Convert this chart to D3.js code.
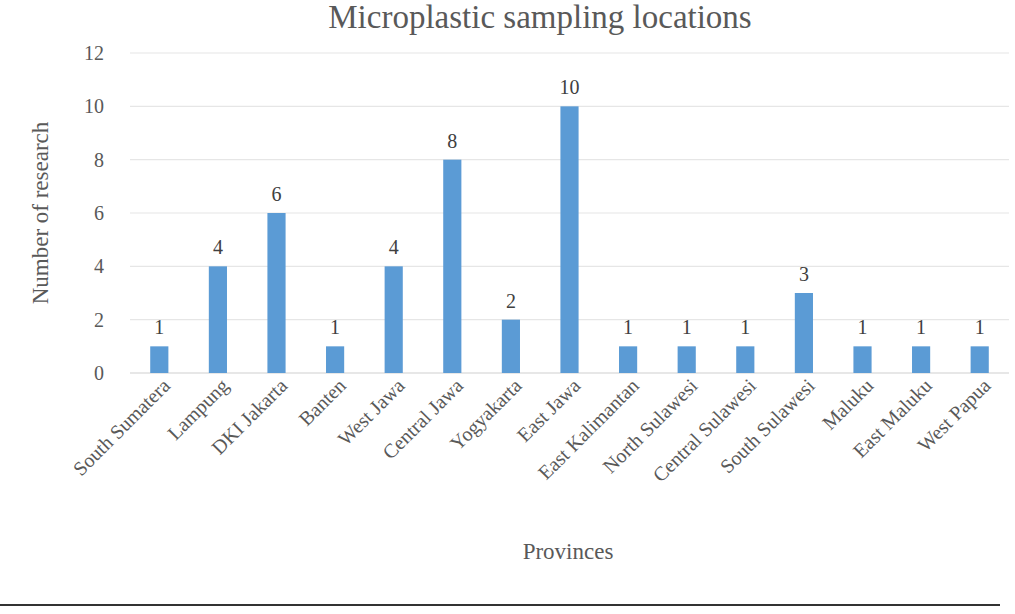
<!DOCTYPE html>
<html>
<head>
<meta charset="utf-8">
<script src="https://cdn.jsdelivr.net/npm/d3@7"></script>
<style>body{margin:0;background:#fff;}</style>
</head>
<body>
<div id="chart"></div>
<script>
// data
const provinces = ["South Sumatera", "Lampung", "DKI Jakarta", "Banten", "West Jawa", "Central Jawa",
  "Yogyakarta", "East Jawa", "East Kalimantan", "North Sulawesi", "Central Sulawesi",
  "South Sulawesi", "Maluku", "East Maluku", "West Papua"];
const counts = [1, 4, 6, 1, 4, 8, 2, 10, 1, 1, 1, 3, 1, 1, 1];
const yTicks = [0, 2, 4, 6, 8, 10, 12];

const data = provinces.map((p, i) => ({name: p, count: counts[i]}));

const margin = {top: 53, right: 6, bottom: 241, left: 130},
    width = 1015 - margin.left - margin.right,
    height = 614 - margin.top - margin.bottom;

const font = "Liberation Serif";

const root = d3.select("#chart").append("svg")
    .attr("width", 1015).attr("height", 614);

const svg = root.append("g")
    .attr("transform", `translate(${margin.left}, ${margin.top})`);

// title
root.append("text")
  .attr("x", 540).attr("y", 28)
  .attr("text-anchor", "middle")
  .attr("font-family", font).style("font-size", "33px")
  .attr("fill", "#595959")
  .text("Microplastic sampling locations");

const x = d3.scaleBand().domain(provinces).range([0, width]).paddingInner(0.69).paddingOuter(0.345);
const y = d3.scaleLinear().domain([0, 12]).range([height, 0]);

// gridlines
svg.selectAll(".grid").data(yTicks).join("line")
  .attr("x1", 0).attr("x2", width)
  .attr("y1", d => y(d)).attr("y2", d => y(d))
  .attr("stroke", d => d === 0 ? "#d0d0d0" : "#e6e6e6").attr("stroke-width", 1.2);

// y axis labels
const yAxis = svg.append("g")
  .call(d3.axisLeft(y).tickValues(yTicks).tickSize(0).tickPadding(26));
yAxis.select(".domain").remove();
yAxis.selectAll("text").attr("font-family", font).style("font-size", "20px").attr("fill", "#595959");

// x axis labels
const xAxis = svg.append("g")
  .attr("transform", `translate(0, ${height})`)
  .call(d3.axisBottom(x).tickSize(0).tickPadding(0));
xAxis.select(".domain").remove();
xAxis.selectAll("text")
  .attr("font-family", font).style("font-size", "20px").attr("fill", "#595959")
  .attr("dy", 0)
  .attr("transform", "translate(12,14)rotate(-45)")
  .style("text-anchor", "end");

// bars
svg.selectAll("rect.bar").data(data).join("rect")
  .attr("x", d => x(d.name))
  .attr("y", d => y(d.count))
  .attr("width", x.bandwidth())
  .attr("height", d => y(0) - y(d.count))
  .attr("fill", "#5b9bd5");

// value labels
svg.selectAll("text.val").data(data).join("text")
  .attr("x", d => x(d.name) + x.bandwidth() / 2)
  .attr("y", d => y(d.count) - 12)
  .attr("text-anchor", "middle")
  .attr("font-family", font).style("font-size", "20px").attr("fill", "#404040")
  .text(d => d.count);

// axis titles
svg.append("text")
  .attr("transform", `translate(-82, ${height / 2})rotate(-90)`)
  .attr("text-anchor", "middle")
  .attr("font-family", font).style("font-size", "23px").attr("fill", "#595959")
  .text("Number of research");

svg.append("text")
  .attr("x", 438).attr("y", height + 186)
  .attr("text-anchor", "middle")
  .attr("font-family", font).style("font-size", "23px").attr("fill", "#595959")
  .text("Provinces");

// bottom rule
root.append("line")
  .attr("x1", 0).attr("x2", 1000).attr("y1", 605).attr("y2", 605)
  .attr("stroke", "#333").attr("stroke-width", 2);
</script>
</body>
</html>
